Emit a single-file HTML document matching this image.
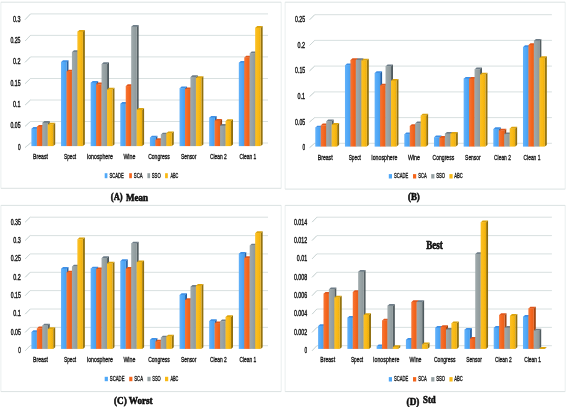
<!DOCTYPE html>
<html><head><meta charset="utf-8"><title>Figure</title>
<style>
html,body{margin:0;padding:0;background:#fff;}
body{width:566px;height:407px;overflow:hidden;}
svg{display:block;}
.t{font-family:"Liberation Sans",sans-serif;font-size:8px;fill:#151515;stroke:#151515;stroke-width:0.35px;}
.y{font-family:"Liberation Sans",sans-serif;font-size:8.6px;fill:#151515;stroke:#151515;stroke-width:0.42px;}
.l{font-family:"Liberation Sans",sans-serif;font-size:7.6px;fill:#151515;stroke:#151515;stroke-width:0.35px;}
.c{font-family:"Liberation Serif",serif;font-weight:bold;font-size:10.4px;fill:#0a0a0a;stroke:#0a0a0a;stroke-width:0.55px;}
</style></head><body>
<svg width="566" height="407" viewBox="0 0 566 407">
<defs>
<linearGradient id="g0" x1="0" x2="1" y1="0" y2="0"><stop offset="0" stop-color="#62b1f9"/><stop offset="0.55" stop-color="#50a8f8"/><stop offset="1" stop-color="#4b9ee9"/></linearGradient>
<linearGradient id="s0" x1="0" x2="1" y1="0" y2="0"><stop offset="0" stop-color="#2c6fba"/><stop offset="1" stop-color="#245b99"/></linearGradient>
<linearGradient id="g1" x1="0" x2="1" y1="0" y2="0"><stop offset="0" stop-color="#f67535"/><stop offset="0.55" stop-color="#f5661f"/><stop offset="1" stop-color="#e6601d"/></linearGradient>
<linearGradient id="s1" x1="0" x2="1" y1="0" y2="0"><stop offset="0" stop-color="#b54a12"/><stop offset="1" stop-color="#943d0f"/></linearGradient>
<linearGradient id="g2" x1="0" x2="1" y1="0" y2="0"><stop offset="0" stop-color="#a0aaac"/><stop offset="0.55" stop-color="#96a1a3"/><stop offset="1" stop-color="#8d9799"/></linearGradient>
<linearGradient id="s2" x1="0" x2="1" y1="0" y2="0"><stop offset="0" stop-color="#5c686c"/><stop offset="1" stop-color="#4b5559"/></linearGradient>
<linearGradient id="g3" x1="0" x2="1" y1="0" y2="0"><stop offset="0" stop-color="#fac02a"/><stop offset="0.55" stop-color="#f9b912"/><stop offset="1" stop-color="#eaae11"/></linearGradient>
<linearGradient id="s3" x1="0" x2="1" y1="0" y2="0"><stop offset="0" stop-color="#a37c08"/><stop offset="1" stop-color="#866607"/></linearGradient>
<filter id="soft" filterUnits="userSpaceOnUse" x="0" y="0" width="566" height="407"><feGaussianBlur stdDeviation="0.35"/></filter>
</defs>
<rect width="566" height="407" fill="#fff"/>
<g filter="url(#soft)">
<g class="panelA">
<path d="M0.9,2.2V188.3M281.2,2.2V188.3" fill="none" stroke="#eaefef" stroke-width="1"/>
<path d="M0.9,2.2H281.2M0.9,188.3H281.2" fill="none" stroke="#dbe2e2" stroke-width="1"/>
<polyline points="25.1,19.7 30.5,13.9 268,13.9" fill="none" stroke="#d4dddd" stroke-width="0.9"/>
<line x1="25.1" y1="19.7" x2="30.5" y2="13.9" stroke="#c9d3d3" stroke-width="0.8"/>
<text x="20.5" y="21.7" text-anchor="end" class="y" textLength="7.5" lengthAdjust="spacingAndGlyphs">0.3</text>
<polyline points="25.1,41.0 30.5,35.4 268,35.4" fill="none" stroke="#d4dddd" stroke-width="0.9"/>
<line x1="25.1" y1="41.0" x2="30.5" y2="35.4" stroke="#c9d3d3" stroke-width="0.8"/>
<text x="20.5" y="43.0" text-anchor="end" class="y" textLength="10.1" lengthAdjust="spacingAndGlyphs">0.25</text>
<polyline points="25.1,62.3 30.5,56.9 268,56.9" fill="none" stroke="#d4dddd" stroke-width="0.9"/>
<line x1="25.1" y1="62.3" x2="30.5" y2="56.9" stroke="#c9d3d3" stroke-width="0.8"/>
<text x="20.5" y="64.4" text-anchor="end" class="y" textLength="7.5" lengthAdjust="spacingAndGlyphs">0.2</text>
<polyline points="25.1,83.7 30.5,78.5 268,78.5" fill="none" stroke="#d4dddd" stroke-width="0.9"/>
<line x1="25.1" y1="83.7" x2="30.5" y2="78.5" stroke="#c9d3d3" stroke-width="0.8"/>
<text x="20.5" y="85.7" text-anchor="end" class="y" textLength="10.0" lengthAdjust="spacingAndGlyphs">0.15</text>
<polyline points="25.1,105.0 30.5,100.0 268,100.0" fill="none" stroke="#d4dddd" stroke-width="0.9"/>
<line x1="25.1" y1="105.0" x2="30.5" y2="100.0" stroke="#c9d3d3" stroke-width="0.8"/>
<text x="20.5" y="107.0" text-anchor="end" class="y" textLength="7.5" lengthAdjust="spacingAndGlyphs">0.1</text>
<polyline points="25.1,126.3 30.5,121.5 268,121.5" fill="none" stroke="#d4dddd" stroke-width="0.9"/>
<line x1="25.1" y1="126.3" x2="30.5" y2="121.5" stroke="#c9d3d3" stroke-width="0.8"/>
<text x="20.5" y="128.3" text-anchor="end" class="y" textLength="10.0" lengthAdjust="spacingAndGlyphs">0.05</text>
<polyline points="25.1,147.6 30.5,143.0 268,143.0" fill="none" stroke="#d4dddd" stroke-width="0.9"/>
<line x1="25.1" y1="147.6" x2="30.5" y2="143.0" stroke="#c9d3d3" stroke-width="0.8"/>
<text x="20.5" y="149.7" text-anchor="end" class="y" textLength="2.6" lengthAdjust="spacingAndGlyphs">0</text>
<polygon points="36.85,128.82 38.85,127.12 38.85,144.40 36.85,146.10" fill="url(#s0)"/>
<polygon points="31.40,129.12 36.85,129.12 38.85,127.12 33.40,127.12" fill="#3d8fe6"/>
<rect x="31.40" y="128.82" width="5.50" height="17.28" fill="url(#g0)"/>
<polygon points="42.30,126.66 44.30,124.96 44.30,144.40 42.30,146.10" fill="url(#s1)"/>
<polygon points="36.85,126.96 42.30,126.96 44.30,124.96 38.85,124.96" fill="#e0571a"/>
<rect x="36.85" y="126.66" width="5.50" height="19.44" fill="url(#g1)"/>
<polygon points="47.75,122.77 49.75,121.07 49.75,144.40 47.75,146.10" fill="url(#s2)"/>
<polygon points="42.30,123.07 47.75,123.07 49.75,121.07 44.30,121.07" fill="#6e7d88"/>
<rect x="42.30" y="122.77" width="5.50" height="23.33" fill="url(#g2)"/>
<polygon points="53.20,124.50 55.20,122.80 55.20,144.40 53.20,146.10" fill="url(#s3)"/>
<polygon points="47.75,124.80 53.20,124.80 55.20,122.80 49.75,122.80" fill="#dba30c"/>
<rect x="47.75" y="124.50" width="5.50" height="21.60" fill="url(#g3)"/>
<text x="40.5" y="159.3" text-anchor="middle" class="t" textLength="14.8" lengthAdjust="spacingAndGlyphs">Breast</text>
<polygon points="66.48,61.86 68.48,60.16 68.48,144.40 66.48,146.10" fill="url(#s0)"/>
<polygon points="61.03,62.16 66.48,62.16 68.48,60.16 63.03,60.16" fill="#3d8fe6"/>
<rect x="61.03" y="61.86" width="5.50" height="84.24" fill="url(#g0)"/>
<polygon points="71.93,71.36 73.93,69.66 73.93,144.40 71.93,146.10" fill="url(#s1)"/>
<polygon points="66.48,71.66 71.93,71.66 73.93,69.66 68.48,69.66" fill="#e0571a"/>
<rect x="66.48" y="71.36" width="5.50" height="74.74" fill="url(#g1)"/>
<polygon points="77.38,51.92 79.38,50.22 79.38,144.40 77.38,146.10" fill="url(#s2)"/>
<polygon points="71.93,52.22 77.38,52.22 79.38,50.22 73.93,50.22" fill="#6e7d88"/>
<rect x="71.93" y="51.92" width="5.50" height="94.18" fill="url(#g2)"/>
<polygon points="82.83,31.62 84.83,29.92 84.83,144.40 82.83,146.10" fill="url(#s3)"/>
<polygon points="77.38,31.92 82.83,31.92 84.83,29.92 79.38,29.92" fill="#dba30c"/>
<rect x="77.38" y="31.62" width="5.50" height="114.48" fill="url(#g3)"/>
<text x="70.1" y="159.3" text-anchor="middle" class="t" textLength="12.2" lengthAdjust="spacingAndGlyphs">Spect</text>
<polygon points="96.11,82.60 98.11,80.90 98.11,144.40 96.11,146.10" fill="url(#s0)"/>
<polygon points="90.66,82.90 96.11,82.90 98.11,80.90 92.66,80.90" fill="#3d8fe6"/>
<rect x="90.66" y="82.60" width="5.50" height="63.50" fill="url(#g0)"/>
<polygon points="101.56,84.32 103.56,82.62 103.56,144.40 101.56,146.10" fill="url(#s1)"/>
<polygon points="96.11,84.62 101.56,84.62 103.56,82.62 98.11,82.62" fill="#e0571a"/>
<rect x="96.11" y="84.32" width="5.50" height="61.78" fill="url(#g1)"/>
<polygon points="107.01,64.02 109.01,62.32 109.01,144.40 107.01,146.10" fill="url(#s2)"/>
<polygon points="101.56,64.32 107.01,64.32 109.01,62.32 103.56,62.32" fill="#6e7d88"/>
<rect x="101.56" y="64.02" width="5.50" height="82.08" fill="url(#g2)"/>
<polygon points="112.46,89.51 114.46,87.81 114.46,144.40 112.46,146.10" fill="url(#s3)"/>
<polygon points="107.01,89.81 112.46,89.81 114.46,87.81 109.01,87.81" fill="#dba30c"/>
<rect x="107.01" y="89.51" width="5.50" height="56.59" fill="url(#g3)"/>
<text x="99.8" y="159.3" text-anchor="middle" class="t" textLength="26.2" lengthAdjust="spacingAndGlyphs">Ionosphere</text>
<polygon points="125.74,103.76 127.74,102.06 127.74,144.40 125.74,146.10" fill="url(#s0)"/>
<polygon points="120.29,104.06 125.74,104.06 127.74,102.06 122.29,102.06" fill="#3d8fe6"/>
<rect x="120.29" y="103.76" width="5.50" height="42.34" fill="url(#g0)"/>
<polygon points="131.19,86.05 133.19,84.35 133.19,144.40 131.19,146.10" fill="url(#s1)"/>
<polygon points="125.74,86.35 131.19,86.35 133.19,84.35 127.74,84.35" fill="#e0571a"/>
<rect x="125.74" y="86.05" width="5.50" height="60.05" fill="url(#g1)"/>
<polygon points="136.64,26.65 138.64,24.95 138.64,144.40 136.64,146.10" fill="url(#s2)"/>
<polygon points="131.19,26.95 136.64,26.95 138.64,24.95 133.19,24.95" fill="#6e7d88"/>
<rect x="131.19" y="26.65" width="5.50" height="119.45" fill="url(#g2)"/>
<polygon points="142.09,109.81 144.09,108.11 144.09,144.40 142.09,146.10" fill="url(#s3)"/>
<polygon points="136.64,110.11 142.09,110.11 144.09,108.11 138.64,108.11" fill="#dba30c"/>
<rect x="136.64" y="109.81" width="5.50" height="36.29" fill="url(#g3)"/>
<text x="129.4" y="159.3" text-anchor="middle" class="t" textLength="12.0" lengthAdjust="spacingAndGlyphs">Wine</text>
<polygon points="155.37,137.46 157.37,135.76 157.37,144.40 155.37,146.10" fill="url(#s0)"/>
<polygon points="149.92,137.76 155.37,137.76 157.37,135.76 151.92,135.76" fill="#3d8fe6"/>
<rect x="149.92" y="137.46" width="5.50" height="8.64" fill="url(#g0)"/>
<polygon points="160.82,140.05 162.82,138.35 162.82,144.40 160.82,146.10" fill="url(#s1)"/>
<polygon points="155.37,140.35 160.82,140.35 162.82,138.35 157.37,138.35" fill="#e0571a"/>
<rect x="155.37" y="140.05" width="5.50" height="6.05" fill="url(#g1)"/>
<polygon points="166.27,134.44 168.27,132.74 168.27,144.40 166.27,146.10" fill="url(#s2)"/>
<polygon points="160.82,134.74 166.27,134.74 168.27,132.74 162.82,132.74" fill="#6e7d88"/>
<rect x="160.82" y="134.44" width="5.50" height="11.66" fill="url(#g2)"/>
<polygon points="171.72,133.14 173.72,131.44 173.72,144.40 171.72,146.10" fill="url(#s3)"/>
<polygon points="166.27,133.44 171.72,133.44 173.72,131.44 168.27,131.44" fill="#dba30c"/>
<rect x="166.27" y="133.14" width="5.50" height="12.96" fill="url(#g3)"/>
<text x="159.0" y="159.3" text-anchor="middle" class="t" textLength="21.7" lengthAdjust="spacingAndGlyphs">Congress</text>
<polygon points="185.00,88.21 187.00,86.51 187.00,144.40 185.00,146.10" fill="url(#s0)"/>
<polygon points="179.55,88.51 185.00,88.51 187.00,86.51 181.55,86.51" fill="#3d8fe6"/>
<rect x="179.55" y="88.21" width="5.50" height="57.89" fill="url(#g0)"/>
<polygon points="190.45,89.08 192.45,87.38 192.45,144.40 190.45,146.10" fill="url(#s1)"/>
<polygon points="185.00,89.38 190.45,89.38 192.45,87.38 187.00,87.38" fill="#e0571a"/>
<rect x="185.00" y="89.08" width="5.50" height="57.02" fill="url(#g1)"/>
<polygon points="195.90,76.98 197.90,75.28 197.90,144.40 195.90,146.10" fill="url(#s2)"/>
<polygon points="190.45,77.28 195.90,77.28 197.90,75.28 192.45,75.28" fill="#6e7d88"/>
<rect x="190.45" y="76.98" width="5.50" height="69.12" fill="url(#g2)"/>
<polygon points="201.35,77.84 203.35,76.14 203.35,144.40 201.35,146.10" fill="url(#s3)"/>
<polygon points="195.90,78.14 201.35,78.14 203.35,76.14 197.90,76.14" fill="#dba30c"/>
<rect x="195.90" y="77.84" width="5.50" height="68.26" fill="url(#g3)"/>
<text x="188.7" y="159.3" text-anchor="middle" class="t" textLength="15.6" lengthAdjust="spacingAndGlyphs">Sensor</text>
<polygon points="214.63,117.59 216.63,115.89 216.63,144.40 214.63,146.10" fill="url(#s0)"/>
<polygon points="209.18,117.89 214.63,117.89 216.63,115.89 211.18,115.89" fill="#3d8fe6"/>
<rect x="209.18" y="117.59" width="5.50" height="28.51" fill="url(#g0)"/>
<polygon points="220.08,120.61 222.08,118.91 222.08,144.40 220.08,146.10" fill="url(#s1)"/>
<polygon points="214.63,120.91 220.08,120.91 222.08,118.91 216.63,118.91" fill="#e0571a"/>
<rect x="214.63" y="120.61" width="5.50" height="25.49" fill="url(#g1)"/>
<polygon points="225.53,125.80 227.53,124.10 227.53,144.40 225.53,146.10" fill="url(#s2)"/>
<polygon points="220.08,126.10 225.53,126.10 227.53,124.10 222.08,124.10" fill="#6e7d88"/>
<rect x="220.08" y="125.80" width="5.50" height="20.30" fill="url(#g2)"/>
<polygon points="230.98,121.04 232.98,119.34 232.98,144.40 230.98,146.10" fill="url(#s3)"/>
<polygon points="225.53,121.34 230.98,121.34 232.98,119.34 227.53,119.34" fill="#dba30c"/>
<rect x="225.53" y="121.04" width="5.50" height="25.06" fill="url(#g3)"/>
<text x="218.3" y="159.3" text-anchor="middle" class="t" textLength="16.8" lengthAdjust="spacingAndGlyphs">Clean 2</text>
<polygon points="244.26,62.72 246.26,61.02 246.26,144.40 244.26,146.10" fill="url(#s0)"/>
<polygon points="238.81,63.02 244.26,63.02 246.26,61.02 240.81,61.02" fill="#3d8fe6"/>
<rect x="238.81" y="62.72" width="5.50" height="83.38" fill="url(#g0)"/>
<polygon points="249.71,57.54 251.71,55.84 251.71,144.40 249.71,146.10" fill="url(#s1)"/>
<polygon points="244.26,57.84 249.71,57.84 251.71,55.84 246.26,55.84" fill="#e0571a"/>
<rect x="244.26" y="57.54" width="5.50" height="88.56" fill="url(#g1)"/>
<polygon points="255.16,53.22 257.16,51.52 257.16,144.40 255.16,146.10" fill="url(#s2)"/>
<polygon points="249.71,53.52 255.16,53.52 257.16,51.52 251.71,51.52" fill="#6e7d88"/>
<rect x="249.71" y="53.22" width="5.50" height="92.88" fill="url(#g2)"/>
<polygon points="260.61,27.73 262.61,26.03 262.61,144.40 260.61,146.10" fill="url(#s3)"/>
<polygon points="255.16,28.03 260.61,28.03 262.61,26.03 257.16,26.03" fill="#dba30c"/>
<rect x="255.16" y="27.73" width="5.50" height="118.37" fill="url(#g3)"/>
<text x="247.9" y="159.3" text-anchor="middle" class="t" textLength="16.8" lengthAdjust="spacingAndGlyphs">Clean 1</text>
<rect x="104.7" y="173.2" width="2.7" height="5.0" fill="#50a8f8"/>
<text x="109.4" y="178.0" class="l" textLength="14.5" lengthAdjust="spacingAndGlyphs">SCADE</text>
<rect x="129.2" y="173.2" width="2.7" height="5.0" fill="#f5661f"/>
<text x="133.8" y="178.0" class="l" textLength="8.9" lengthAdjust="spacingAndGlyphs">SCA</text>
<rect x="147.4" y="173.2" width="2.7" height="5.0" fill="#96a1a3"/>
<text x="151.8" y="178.0" class="l" textLength="8.9" lengthAdjust="spacingAndGlyphs">SSO</text>
<rect x="165.1" y="173.2" width="2.7" height="5.0" fill="#f9b912"/>
<text x="170.4" y="178.0" class="l" textLength="7.9" lengthAdjust="spacingAndGlyphs">ABC</text>
</g>
<g class="panelB">
<path d="M285.1,2.2V189.1M565.2,2.2V189.1" fill="none" stroke="#eaefef" stroke-width="1"/>
<path d="M285.1,2.2H565.2M285.1,189.1H565.2" fill="none" stroke="#dbe2e2" stroke-width="1"/>
<polyline points="309.6,19.8 314.7,14.7 551.9,14.7" fill="none" stroke="#d4dddd" stroke-width="0.9"/>
<line x1="309.6" y1="19.8" x2="314.7" y2="14.7" stroke="#c9d3d3" stroke-width="0.8"/>
<text x="305.1" y="22.1" text-anchor="end" class="y" textLength="10.1" lengthAdjust="spacingAndGlyphs">0.25</text>
<polyline points="309.6,45.4 314.7,40.4 551.9,40.4" fill="none" stroke="#d4dddd" stroke-width="0.9"/>
<line x1="309.6" y1="45.4" x2="314.7" y2="40.4" stroke="#c9d3d3" stroke-width="0.8"/>
<text x="305.1" y="47.7" text-anchor="end" class="y" textLength="7.5" lengthAdjust="spacingAndGlyphs">0.2</text>
<polyline points="309.6,70.9 314.7,66.1 551.9,66.1" fill="none" stroke="#d4dddd" stroke-width="0.9"/>
<line x1="309.6" y1="70.9" x2="314.7" y2="66.1" stroke="#c9d3d3" stroke-width="0.8"/>
<text x="305.1" y="73.3" text-anchor="end" class="y" textLength="10.0" lengthAdjust="spacingAndGlyphs">0.15</text>
<polyline points="309.6,96.5 314.7,91.9 551.9,91.9" fill="none" stroke="#d4dddd" stroke-width="0.9"/>
<line x1="309.6" y1="96.5" x2="314.7" y2="91.9" stroke="#c9d3d3" stroke-width="0.8"/>
<text x="305.1" y="98.9" text-anchor="end" class="y" textLength="7.5" lengthAdjust="spacingAndGlyphs">0.1</text>
<polyline points="309.6,122.0 314.7,117.6 551.9,117.6" fill="none" stroke="#d4dddd" stroke-width="0.9"/>
<line x1="309.6" y1="122.0" x2="314.7" y2="117.6" stroke="#c9d3d3" stroke-width="0.8"/>
<text x="305.1" y="124.5" text-anchor="end" class="y" textLength="10.0" lengthAdjust="spacingAndGlyphs">0.05</text>
<polyline points="309.6,147.6 314.7,143.3 551.9,143.3" fill="none" stroke="#d4dddd" stroke-width="0.9"/>
<line x1="309.6" y1="147.6" x2="314.7" y2="143.3" stroke="#c9d3d3" stroke-width="0.8"/>
<text x="305.1" y="150.1" text-anchor="end" class="y" textLength="2.6" lengthAdjust="spacingAndGlyphs">0</text>
<polygon points="320.75,127.40 322.75,125.70 322.75,144.90 320.75,146.60" fill="url(#s0)"/>
<polygon points="315.30,127.70 320.75,127.70 322.75,125.70 317.30,125.70" fill="#3d8fe6"/>
<rect x="315.30" y="127.40" width="5.50" height="19.20" fill="url(#g0)"/>
<polygon points="326.20,125.32 328.20,123.62 328.20,144.90 326.20,146.60" fill="url(#s1)"/>
<polygon points="320.75,125.62 326.20,125.62 328.20,123.62 322.75,123.62" fill="#e0571a"/>
<rect x="320.75" y="125.32" width="5.50" height="21.28" fill="url(#g1)"/>
<polygon points="331.65,121.17 333.65,119.47 333.65,144.90 331.65,146.60" fill="url(#s2)"/>
<polygon points="326.20,121.47 331.65,121.47 333.65,119.47 328.20,119.47" fill="#6e7d88"/>
<rect x="326.20" y="121.17" width="5.50" height="25.43" fill="url(#g2)"/>
<polygon points="337.10,124.80 339.10,123.10 339.10,144.90 337.10,146.60" fill="url(#s3)"/>
<polygon points="331.65,125.10 337.10,125.10 339.10,123.10 333.65,123.10" fill="#dba30c"/>
<rect x="331.65" y="124.80" width="5.50" height="21.80" fill="url(#g3)"/>
<text x="325.2" y="160.0" text-anchor="middle" class="t" textLength="14.8" lengthAdjust="spacingAndGlyphs">Breast</text>
<polygon points="350.42,65.12 352.42,63.42 352.42,144.90 350.42,146.60" fill="url(#s0)"/>
<polygon points="344.97,65.42 350.42,65.42 352.42,63.42 346.97,63.42" fill="#3d8fe6"/>
<rect x="344.97" y="65.12" width="5.50" height="81.48" fill="url(#g0)"/>
<polygon points="355.87,59.93 357.87,58.23 357.87,144.90 355.87,146.60" fill="url(#s1)"/>
<polygon points="350.42,60.23 355.87,60.23 357.87,58.23 352.42,58.23" fill="#e0571a"/>
<rect x="350.42" y="59.93" width="5.50" height="86.67" fill="url(#g1)"/>
<polygon points="361.32,59.93 363.32,58.23 363.32,144.90 361.32,146.60" fill="url(#s2)"/>
<polygon points="355.87,60.23 361.32,60.23 363.32,58.23 357.87,58.23" fill="#6e7d88"/>
<rect x="355.87" y="59.93" width="5.50" height="86.67" fill="url(#g2)"/>
<polygon points="366.77,60.45 368.77,58.75 368.77,144.90 366.77,146.60" fill="url(#s3)"/>
<polygon points="361.32,60.75 366.77,60.75 368.77,58.75 363.32,58.75" fill="#dba30c"/>
<rect x="361.32" y="60.45" width="5.50" height="86.15" fill="url(#g3)"/>
<text x="354.8" y="160.0" text-anchor="middle" class="t" textLength="12.2" lengthAdjust="spacingAndGlyphs">Spect</text>
<polygon points="380.09,72.90 382.09,71.20 382.09,144.90 380.09,146.60" fill="url(#s0)"/>
<polygon points="374.64,73.20 380.09,73.20 382.09,71.20 376.64,71.20" fill="#3d8fe6"/>
<rect x="374.64" y="72.90" width="5.50" height="73.70" fill="url(#g0)"/>
<polygon points="385.54,85.36 387.54,83.66 387.54,144.90 385.54,146.60" fill="url(#s1)"/>
<polygon points="380.09,85.66 385.54,85.66 387.54,83.66 382.09,83.66" fill="#e0571a"/>
<rect x="380.09" y="85.36" width="5.50" height="61.24" fill="url(#g1)"/>
<polygon points="390.99,66.16 392.99,64.45 392.99,144.90 390.99,146.60" fill="url(#s2)"/>
<polygon points="385.54,66.45 390.99,66.45 392.99,64.45 387.54,64.45" fill="#6e7d88"/>
<rect x="385.54" y="66.16" width="5.50" height="80.44" fill="url(#g2)"/>
<polygon points="396.44,80.69 398.44,78.99 398.44,144.90 396.44,146.60" fill="url(#s3)"/>
<polygon points="390.99,80.99 396.44,80.99 398.44,78.99 392.99,78.99" fill="#dba30c"/>
<rect x="390.99" y="80.69" width="5.50" height="65.91" fill="url(#g3)"/>
<text x="384.3" y="160.0" text-anchor="middle" class="t" textLength="26.2" lengthAdjust="spacingAndGlyphs">Ionosphere</text>
<polygon points="409.76,134.14 411.76,132.44 411.76,144.90 409.76,146.60" fill="url(#s0)"/>
<polygon points="404.31,134.44 409.76,134.44 411.76,132.44 406.31,132.44" fill="#3d8fe6"/>
<rect x="404.31" y="134.14" width="5.50" height="12.46" fill="url(#g0)"/>
<polygon points="415.21,125.84 417.21,124.14 417.21,144.90 415.21,146.60" fill="url(#s1)"/>
<polygon points="409.76,126.14 415.21,126.14 417.21,124.14 411.76,124.14" fill="#e0571a"/>
<rect x="409.76" y="125.84" width="5.50" height="20.76" fill="url(#g1)"/>
<polygon points="420.66,123.24 422.66,121.54 422.66,144.90 420.66,146.60" fill="url(#s2)"/>
<polygon points="415.21,123.54 420.66,123.54 422.66,121.54 417.21,121.54" fill="#6e7d88"/>
<rect x="415.21" y="123.24" width="5.50" height="23.36" fill="url(#g2)"/>
<polygon points="426.11,115.46 428.11,113.76 428.11,144.90 426.11,146.60" fill="url(#s3)"/>
<polygon points="420.66,115.76 426.11,115.76 428.11,113.76 422.66,113.76" fill="#dba30c"/>
<rect x="420.66" y="115.46" width="5.50" height="31.14" fill="url(#g3)"/>
<text x="413.9" y="160.0" text-anchor="middle" class="t" textLength="12.0" lengthAdjust="spacingAndGlyphs">Wine</text>
<polygon points="439.43,137.26 441.43,135.56 441.43,144.90 439.43,146.60" fill="url(#s0)"/>
<polygon points="433.98,137.56 439.43,137.56 441.43,135.56 435.98,135.56" fill="#3d8fe6"/>
<rect x="433.98" y="137.26" width="5.50" height="9.34" fill="url(#g0)"/>
<polygon points="444.88,137.78 446.88,136.08 446.88,144.90 444.88,146.60" fill="url(#s1)"/>
<polygon points="439.43,138.08 444.88,138.08 446.88,136.08 441.43,136.08" fill="#e0571a"/>
<rect x="439.43" y="137.78" width="5.50" height="8.82" fill="url(#g1)"/>
<polygon points="450.33,133.62 452.33,131.93 452.33,144.90 450.33,146.60" fill="url(#s2)"/>
<polygon points="444.88,133.93 450.33,133.93 452.33,131.93 446.88,131.93" fill="#6e7d88"/>
<rect x="444.88" y="133.62" width="5.50" height="12.97" fill="url(#g2)"/>
<polygon points="455.78,133.62 457.78,131.93 457.78,144.90 455.78,146.60" fill="url(#s3)"/>
<polygon points="450.33,133.93 455.78,133.93 457.78,131.93 452.33,131.93" fill="#dba30c"/>
<rect x="450.33" y="133.62" width="5.50" height="12.97" fill="url(#g3)"/>
<text x="443.4" y="160.0" text-anchor="middle" class="t" textLength="21.7" lengthAdjust="spacingAndGlyphs">Congress</text>
<polygon points="469.10,78.61 471.10,76.91 471.10,144.90 469.10,146.60" fill="url(#s0)"/>
<polygon points="463.65,78.91 469.10,78.91 471.10,76.91 465.65,76.91" fill="#3d8fe6"/>
<rect x="463.65" y="78.61" width="5.50" height="67.99" fill="url(#g0)"/>
<polygon points="474.55,78.61 476.55,76.91 476.55,144.90 474.55,146.60" fill="url(#s1)"/>
<polygon points="469.10,78.91 474.55,78.91 476.55,76.91 471.10,76.91" fill="#e0571a"/>
<rect x="469.10" y="78.61" width="5.50" height="67.99" fill="url(#g1)"/>
<polygon points="480.00,69.27 482.00,67.57 482.00,144.90 480.00,146.60" fill="url(#s2)"/>
<polygon points="474.55,69.57 480.00,69.57 482.00,67.57 476.55,67.57" fill="#6e7d88"/>
<rect x="474.55" y="69.27" width="5.50" height="77.33" fill="url(#g2)"/>
<polygon points="485.45,74.46 487.45,72.76 487.45,144.90 485.45,146.60" fill="url(#s3)"/>
<polygon points="480.00,74.76 485.45,74.76 487.45,72.76 482.00,72.76" fill="#dba30c"/>
<rect x="480.00" y="74.46" width="5.50" height="72.14" fill="url(#g3)"/>
<text x="472.9" y="160.0" text-anchor="middle" class="t" textLength="15.6" lengthAdjust="spacingAndGlyphs">Sensor</text>
<polygon points="498.77,128.95 500.77,127.25 500.77,144.90 498.77,146.60" fill="url(#s0)"/>
<polygon points="493.32,129.25 498.77,129.25 500.77,127.25 495.32,127.25" fill="#3d8fe6"/>
<rect x="493.32" y="128.95" width="5.50" height="17.65" fill="url(#g0)"/>
<polygon points="504.22,130.51 506.22,128.81 506.22,144.90 504.22,146.60" fill="url(#s1)"/>
<polygon points="498.77,130.81 504.22,130.81 506.22,128.81 500.77,128.81" fill="#e0571a"/>
<rect x="498.77" y="130.51" width="5.50" height="16.09" fill="url(#g1)"/>
<polygon points="509.67,134.14 511.67,132.44 511.67,144.90 509.67,146.60" fill="url(#s2)"/>
<polygon points="504.22,134.44 509.67,134.44 511.67,132.44 506.22,132.44" fill="#6e7d88"/>
<rect x="504.22" y="134.14" width="5.50" height="12.46" fill="url(#g2)"/>
<polygon points="515.12,128.44 517.12,126.73 517.12,144.90 515.12,146.60" fill="url(#s3)"/>
<polygon points="509.67,128.74 515.12,128.74 517.12,126.73 511.67,126.73" fill="#dba30c"/>
<rect x="509.67" y="128.44" width="5.50" height="18.16" fill="url(#g3)"/>
<text x="502.5" y="160.0" text-anchor="middle" class="t" textLength="16.8" lengthAdjust="spacingAndGlyphs">Clean 2</text>
<polygon points="528.44,46.95 530.44,45.25 530.44,144.90 528.44,146.60" fill="url(#s0)"/>
<polygon points="522.99,47.25 528.44,47.25 530.44,45.25 524.99,45.25" fill="#3d8fe6"/>
<rect x="522.99" y="46.95" width="5.50" height="99.65" fill="url(#g0)"/>
<polygon points="533.89,44.88 535.89,43.18 535.89,144.90 533.89,146.60" fill="url(#s1)"/>
<polygon points="528.44,45.18 533.89,45.18 535.89,43.18 530.44,43.18" fill="#e0571a"/>
<rect x="528.44" y="44.88" width="5.50" height="101.72" fill="url(#g1)"/>
<polygon points="539.34,40.72 541.34,39.02 541.34,144.90 539.34,146.60" fill="url(#s2)"/>
<polygon points="533.89,41.02 539.34,41.02 541.34,39.02 535.89,39.02" fill="#6e7d88"/>
<rect x="533.89" y="40.72" width="5.50" height="105.88" fill="url(#g2)"/>
<polygon points="544.79,57.85 546.79,56.15 546.79,144.90 544.79,146.60" fill="url(#s3)"/>
<polygon points="539.34,58.15 544.79,58.15 546.79,56.15 541.34,56.15" fill="#dba30c"/>
<rect x="539.34" y="57.85" width="5.50" height="88.75" fill="url(#g3)"/>
<text x="532.0" y="160.0" text-anchor="middle" class="t" textLength="16.8" lengthAdjust="spacingAndGlyphs">Clean 1</text>
<rect x="388.8" y="174.1" width="3.2" height="4.4" fill="#50a8f8"/>
<text x="394.1" y="178.3" class="l" textLength="14.2" lengthAdjust="spacingAndGlyphs">SCADE</text>
<rect x="413.0" y="174.1" width="3.2" height="4.4" fill="#f5661f"/>
<text x="418.3" y="178.3" class="l" textLength="8.5" lengthAdjust="spacingAndGlyphs">SCA</text>
<rect x="431.2" y="174.1" width="3.2" height="4.4" fill="#96a1a3"/>
<text x="436.2" y="178.3" class="l" textLength="8.8" lengthAdjust="spacingAndGlyphs">SSO</text>
<rect x="449.4" y="174.1" width="3.2" height="4.4" fill="#f9b912"/>
<text x="454.2" y="178.3" class="l" textLength="8.5" lengthAdjust="spacingAndGlyphs">ABC</text>
</g>
<g class="panelC">
<path d="M0.9,205.4V391.6M281.2,205.4V391.6" fill="none" stroke="#eaefef" stroke-width="1"/>
<path d="M0.9,205.4H281.2M0.9,391.6H281.2" fill="none" stroke="#dbe2e2" stroke-width="1"/>
<polyline points="25.2,222.1 30.2,217.2 268,217.2" fill="none" stroke="#d4dddd" stroke-width="0.9"/>
<line x1="25.2" y1="222.1" x2="30.2" y2="217.2" stroke="#c9d3d3" stroke-width="0.8"/>
<text x="20.8" y="224.5" text-anchor="end" class="y" textLength="10.1" lengthAdjust="spacingAndGlyphs">0.35</text>
<polyline points="25.2,240.5 30.2,235.6 268,235.6" fill="none" stroke="#d4dddd" stroke-width="0.9"/>
<line x1="25.2" y1="240.5" x2="30.2" y2="235.6" stroke="#c9d3d3" stroke-width="0.8"/>
<text x="20.8" y="242.8" text-anchor="end" class="y" textLength="7.5" lengthAdjust="spacingAndGlyphs">0.3</text>
<polyline points="25.2,258.9 30.2,253.9 268,253.9" fill="none" stroke="#d4dddd" stroke-width="0.9"/>
<line x1="25.2" y1="258.9" x2="30.2" y2="253.9" stroke="#c9d3d3" stroke-width="0.8"/>
<text x="20.8" y="261.2" text-anchor="end" class="y" textLength="10.1" lengthAdjust="spacingAndGlyphs">0.25</text>
<polyline points="25.2,277.3 30.2,272.3 268,272.3" fill="none" stroke="#d4dddd" stroke-width="0.9"/>
<line x1="25.2" y1="277.3" x2="30.2" y2="272.3" stroke="#c9d3d3" stroke-width="0.8"/>
<text x="20.8" y="279.5" text-anchor="end" class="y" textLength="7.5" lengthAdjust="spacingAndGlyphs">0.2</text>
<polyline points="25.2,295.7 30.2,290.6 268,290.6" fill="none" stroke="#d4dddd" stroke-width="0.9"/>
<line x1="25.2" y1="295.7" x2="30.2" y2="290.6" stroke="#c9d3d3" stroke-width="0.8"/>
<text x="20.8" y="297.8" text-anchor="end" class="y" textLength="10.0" lengthAdjust="spacingAndGlyphs">0.15</text>
<polyline points="25.2,314.1 30.2,309.0 268,309.0" fill="none" stroke="#d4dddd" stroke-width="0.9"/>
<line x1="25.2" y1="314.1" x2="30.2" y2="309.0" stroke="#c9d3d3" stroke-width="0.8"/>
<text x="20.8" y="316.1" text-anchor="end" class="y" textLength="7.5" lengthAdjust="spacingAndGlyphs">0.1</text>
<polyline points="25.2,332.4 30.2,327.4 268,327.4" fill="none" stroke="#d4dddd" stroke-width="0.9"/>
<line x1="25.2" y1="332.4" x2="30.2" y2="327.4" stroke="#c9d3d3" stroke-width="0.8"/>
<text x="20.8" y="334.5" text-anchor="end" class="y" textLength="10.0" lengthAdjust="spacingAndGlyphs">0.05</text>
<polyline points="25.2,350.8 30.2,345.7 268,345.7" fill="none" stroke="#d4dddd" stroke-width="0.9"/>
<line x1="25.2" y1="350.8" x2="30.2" y2="345.7" stroke="#c9d3d3" stroke-width="0.8"/>
<text x="20.8" y="352.8" text-anchor="end" class="y" textLength="2.6" lengthAdjust="spacingAndGlyphs">0</text>
<polygon points="36.85,331.98 38.85,330.28 38.85,347.20 36.85,348.90" fill="url(#s0)"/>
<polygon points="31.40,332.28 36.85,332.28 38.85,330.28 33.40,330.28" fill="#3d8fe6"/>
<rect x="31.40" y="331.98" width="5.50" height="16.92" fill="url(#g0)"/>
<polygon points="42.30,328.30 44.30,326.60 44.30,347.20 42.30,348.90" fill="url(#s1)"/>
<polygon points="36.85,328.60 42.30,328.60 44.30,326.60 38.85,326.60" fill="#e0571a"/>
<rect x="36.85" y="328.30" width="5.50" height="20.60" fill="url(#g1)"/>
<polygon points="47.75,325.36 49.75,323.66 49.75,347.20 47.75,348.90" fill="url(#s2)"/>
<polygon points="42.30,325.66 47.75,325.66 49.75,323.66 44.30,323.66" fill="#6e7d88"/>
<rect x="42.30" y="325.36" width="5.50" height="23.54" fill="url(#g2)"/>
<polygon points="53.20,329.04 55.20,327.34 55.20,347.20 53.20,348.90" fill="url(#s3)"/>
<polygon points="47.75,329.34 53.20,329.34 55.20,327.34 49.75,327.34" fill="#dba30c"/>
<rect x="47.75" y="329.04" width="5.50" height="19.86" fill="url(#g3)"/>
<text x="40.5" y="362.3" text-anchor="middle" class="t" textLength="14.8" lengthAdjust="spacingAndGlyphs">Breast</text>
<polygon points="66.48,268.72 68.48,267.02 68.48,347.20 66.48,348.90" fill="url(#s0)"/>
<polygon points="61.03,269.02 66.48,269.02 68.48,267.02 63.03,267.02" fill="#3d8fe6"/>
<rect x="61.03" y="268.72" width="5.50" height="80.18" fill="url(#g0)"/>
<polygon points="71.93,272.40 73.93,270.70 73.93,347.20 71.93,348.90" fill="url(#s1)"/>
<polygon points="66.48,272.70 71.93,272.70 73.93,270.70 68.48,270.70" fill="#e0571a"/>
<rect x="66.48" y="272.40" width="5.50" height="76.50" fill="url(#g1)"/>
<polygon points="77.38,266.51 79.38,264.81 79.38,347.20 77.38,348.90" fill="url(#s2)"/>
<polygon points="71.93,266.81 77.38,266.81 79.38,264.81 73.93,264.81" fill="#6e7d88"/>
<rect x="71.93" y="266.51" width="5.50" height="82.39" fill="url(#g2)"/>
<polygon points="82.83,239.30 84.83,237.60 84.83,347.20 82.83,348.90" fill="url(#s3)"/>
<polygon points="77.38,239.60 82.83,239.60 84.83,237.60 79.38,237.60" fill="#dba30c"/>
<rect x="77.38" y="239.30" width="5.50" height="109.60" fill="url(#g3)"/>
<text x="70.1" y="362.3" text-anchor="middle" class="t" textLength="12.2" lengthAdjust="spacingAndGlyphs">Spect</text>
<polygon points="96.11,268.35 98.11,266.65 98.11,347.20 96.11,348.90" fill="url(#s0)"/>
<polygon points="90.66,268.65 96.11,268.65 98.11,266.65 92.66,266.65" fill="#3d8fe6"/>
<rect x="90.66" y="268.35" width="5.50" height="80.55" fill="url(#g0)"/>
<polygon points="101.56,269.09 103.56,267.39 103.56,347.20 101.56,348.90" fill="url(#s1)"/>
<polygon points="96.11,269.39 101.56,269.39 103.56,267.39 98.11,267.39" fill="#e0571a"/>
<rect x="96.11" y="269.09" width="5.50" height="79.81" fill="url(#g1)"/>
<polygon points="107.01,258.05 109.01,256.35 109.01,347.20 107.01,348.90" fill="url(#s2)"/>
<polygon points="101.56,258.35 107.01,258.35 109.01,256.35 103.56,256.35" fill="#6e7d88"/>
<rect x="101.56" y="258.05" width="5.50" height="90.85" fill="url(#g2)"/>
<polygon points="112.46,263.57 114.46,261.87 114.46,347.20 112.46,348.90" fill="url(#s3)"/>
<polygon points="107.01,263.87 112.46,263.87 114.46,261.87 109.01,261.87" fill="#dba30c"/>
<rect x="107.01" y="263.57" width="5.50" height="85.33" fill="url(#g3)"/>
<text x="99.8" y="362.3" text-anchor="middle" class="t" textLength="26.2" lengthAdjust="spacingAndGlyphs">Ionosphere</text>
<polygon points="125.74,261.00 127.74,259.30 127.74,347.20 125.74,348.90" fill="url(#s0)"/>
<polygon points="120.29,261.30 125.74,261.30 127.74,259.30 122.29,259.30" fill="#3d8fe6"/>
<rect x="120.29" y="261.00" width="5.50" height="87.90" fill="url(#g0)"/>
<polygon points="131.19,268.72 133.19,267.02 133.19,347.20 131.19,348.90" fill="url(#s1)"/>
<polygon points="125.74,269.02 131.19,269.02 133.19,267.02 127.74,267.02" fill="#e0571a"/>
<rect x="125.74" y="268.72" width="5.50" height="80.18" fill="url(#g1)"/>
<polygon points="136.64,243.34 138.64,241.64 138.64,347.20 136.64,348.90" fill="url(#s2)"/>
<polygon points="131.19,243.64 136.64,243.64 138.64,241.64 133.19,241.64" fill="#6e7d88"/>
<rect x="131.19" y="243.34" width="5.50" height="105.56" fill="url(#g2)"/>
<polygon points="142.09,262.10 144.09,260.40 144.09,347.20 142.09,348.90" fill="url(#s3)"/>
<polygon points="136.64,262.40 142.09,262.40 144.09,260.40 138.64,260.40" fill="#dba30c"/>
<rect x="136.64" y="262.10" width="5.50" height="86.80" fill="url(#g3)"/>
<text x="129.4" y="362.3" text-anchor="middle" class="t" textLength="12.0" lengthAdjust="spacingAndGlyphs">Wine</text>
<polygon points="155.37,339.70 157.37,338.00 157.37,347.20 155.37,348.90" fill="url(#s0)"/>
<polygon points="149.92,340.00 155.37,340.00 157.37,338.00 151.92,338.00" fill="#3d8fe6"/>
<rect x="149.92" y="339.70" width="5.50" height="9.19" fill="url(#g0)"/>
<polygon points="160.82,341.54 162.82,339.84 162.82,347.20 160.82,348.90" fill="url(#s1)"/>
<polygon points="155.37,341.84 160.82,341.84 162.82,339.84 157.37,339.84" fill="#e0571a"/>
<rect x="155.37" y="341.54" width="5.50" height="7.36" fill="url(#g1)"/>
<polygon points="166.27,337.50 168.27,335.80 168.27,347.20 166.27,348.90" fill="url(#s2)"/>
<polygon points="160.82,337.80 166.27,337.80 168.27,335.80 162.82,335.80" fill="#6e7d88"/>
<rect x="160.82" y="337.50" width="5.50" height="11.40" fill="url(#g2)"/>
<polygon points="171.72,336.39 173.72,334.69 173.72,347.20 171.72,348.90" fill="url(#s3)"/>
<polygon points="166.27,336.69 171.72,336.69 173.72,334.69 168.27,334.69" fill="#dba30c"/>
<rect x="166.27" y="336.39" width="5.50" height="12.51" fill="url(#g3)"/>
<text x="159.0" y="362.3" text-anchor="middle" class="t" textLength="21.7" lengthAdjust="spacingAndGlyphs">Congress</text>
<polygon points="185.00,294.83 187.00,293.13 187.00,347.20 185.00,348.90" fill="url(#s0)"/>
<polygon points="179.55,295.13 185.00,295.13 187.00,293.13 181.55,293.13" fill="#3d8fe6"/>
<rect x="179.55" y="294.83" width="5.50" height="54.07" fill="url(#g0)"/>
<polygon points="190.45,299.98 192.45,298.28 192.45,347.20 190.45,348.90" fill="url(#s1)"/>
<polygon points="185.00,300.28 190.45,300.28 192.45,298.28 187.00,298.28" fill="#e0571a"/>
<rect x="185.00" y="299.98" width="5.50" height="48.92" fill="url(#g1)"/>
<polygon points="195.90,286.74 197.90,285.04 197.90,347.20 195.90,348.90" fill="url(#s2)"/>
<polygon points="190.45,287.04 195.90,287.04 197.90,285.04 192.45,285.04" fill="#6e7d88"/>
<rect x="190.45" y="286.74" width="5.50" height="62.16" fill="url(#g2)"/>
<polygon points="201.35,285.64 203.35,283.94 203.35,347.20 201.35,348.90" fill="url(#s3)"/>
<polygon points="195.90,285.94 201.35,285.94 203.35,283.94 197.90,283.94" fill="#dba30c"/>
<rect x="195.90" y="285.64" width="5.50" height="63.26" fill="url(#g3)"/>
<text x="188.7" y="362.3" text-anchor="middle" class="t" textLength="15.6" lengthAdjust="spacingAndGlyphs">Sensor</text>
<polygon points="214.63,320.95 216.63,319.25 216.63,347.20 214.63,348.90" fill="url(#s0)"/>
<polygon points="209.18,321.25 214.63,321.25 216.63,319.25 211.18,319.25" fill="#3d8fe6"/>
<rect x="209.18" y="320.95" width="5.50" height="27.95" fill="url(#g0)"/>
<polygon points="220.08,323.15 222.08,321.45 222.08,347.20 220.08,348.90" fill="url(#s1)"/>
<polygon points="214.63,323.45 220.08,323.45 222.08,321.45 216.63,321.45" fill="#e0571a"/>
<rect x="214.63" y="323.15" width="5.50" height="25.75" fill="url(#g1)"/>
<polygon points="225.53,321.31 227.53,319.62 227.53,347.20 225.53,348.90" fill="url(#s2)"/>
<polygon points="220.08,321.62 225.53,321.62 227.53,319.62 222.08,319.62" fill="#6e7d88"/>
<rect x="220.08" y="321.31" width="5.50" height="27.58" fill="url(#g2)"/>
<polygon points="230.98,316.90 232.98,315.20 232.98,347.20 230.98,348.90" fill="url(#s3)"/>
<polygon points="225.53,317.20 230.98,317.20 232.98,315.20 227.53,315.20" fill="#dba30c"/>
<rect x="225.53" y="316.90" width="5.50" height="32.00" fill="url(#g3)"/>
<text x="218.3" y="362.3" text-anchor="middle" class="t" textLength="16.8" lengthAdjust="spacingAndGlyphs">Clean 2</text>
<polygon points="244.26,253.64 246.26,251.94 246.26,347.20 244.26,348.90" fill="url(#s0)"/>
<polygon points="238.81,253.94 244.26,253.94 246.26,251.94 240.81,251.94" fill="#3d8fe6"/>
<rect x="238.81" y="253.64" width="5.50" height="95.26" fill="url(#g0)"/>
<polygon points="249.71,258.05 251.71,256.35 251.71,347.20 249.71,348.90" fill="url(#s1)"/>
<polygon points="244.26,258.35 249.71,258.35 251.71,256.35 246.26,256.35" fill="#e0571a"/>
<rect x="244.26" y="258.05" width="5.50" height="90.85" fill="url(#g1)"/>
<polygon points="255.16,245.55 257.16,243.85 257.16,347.20 255.16,348.90" fill="url(#s2)"/>
<polygon points="249.71,245.85 255.16,245.85 257.16,243.85 251.71,243.85" fill="#6e7d88"/>
<rect x="249.71" y="245.55" width="5.50" height="103.35" fill="url(#g2)"/>
<polygon points="260.61,233.04 262.61,231.34 262.61,347.20 260.61,348.90" fill="url(#s3)"/>
<polygon points="255.16,233.34 260.61,233.34 262.61,231.34 257.16,231.34" fill="#dba30c"/>
<rect x="255.16" y="233.04" width="5.50" height="115.86" fill="url(#g3)"/>
<text x="247.9" y="362.3" text-anchor="middle" class="t" textLength="16.8" lengthAdjust="spacingAndGlyphs">Clean 1</text>
<rect x="104.7" y="376.8" width="3.2" height="4.4" fill="#50a8f8"/>
<text x="109.8" y="381.0" class="l" textLength="14.7" lengthAdjust="spacingAndGlyphs">SCADE</text>
<rect x="129.2" y="376.8" width="3.2" height="4.4" fill="#f5661f"/>
<text x="134.2" y="381.0" class="l" textLength="8.8" lengthAdjust="spacingAndGlyphs">SCA</text>
<rect x="147.4" y="376.8" width="3.2" height="4.4" fill="#96a1a3"/>
<text x="152.2" y="381.0" class="l" textLength="8.5" lengthAdjust="spacingAndGlyphs">SSO</text>
<rect x="165.0" y="376.8" width="3.2" height="4.4" fill="#f9b912"/>
<text x="170.4" y="381.0" class="l" textLength="7.9" lengthAdjust="spacingAndGlyphs">ABC</text>
</g>
<g class="panelD">
<path d="M285.1,205.4V391.6M565.2,205.4V391.6" fill="none" stroke="#eaefef" stroke-width="1"/>
<path d="M285.1,205.4H565.2M285.1,391.6H565.2" fill="none" stroke="#dbe2e2" stroke-width="1"/>
<polyline points="312.1,222.1 316.9,217.2 551.9,217.2" fill="none" stroke="#d4dddd" stroke-width="0.9"/>
<line x1="312.1" y1="222.1" x2="316.9" y2="217.2" stroke="#c9d3d3" stroke-width="0.8"/>
<text x="307.1" y="224.9" text-anchor="end" class="y" textLength="13.2" lengthAdjust="spacingAndGlyphs">0.014</text>
<polyline points="312.1,240.5 316.9,235.6 551.9,235.6" fill="none" stroke="#d4dddd" stroke-width="0.9"/>
<line x1="312.1" y1="240.5" x2="316.9" y2="235.6" stroke="#c9d3d3" stroke-width="0.8"/>
<text x="307.1" y="243.2" text-anchor="end" class="y" textLength="13.2" lengthAdjust="spacingAndGlyphs">0.012</text>
<polyline points="312.1,258.9 316.9,253.9 551.9,253.9" fill="none" stroke="#d4dddd" stroke-width="0.9"/>
<line x1="312.1" y1="258.9" x2="316.9" y2="253.9" stroke="#c9d3d3" stroke-width="0.8"/>
<text x="307.1" y="261.4" text-anchor="end" class="y" textLength="10.3" lengthAdjust="spacingAndGlyphs">0.01</text>
<polyline points="312.1,277.3 316.9,272.3 551.9,272.3" fill="none" stroke="#d4dddd" stroke-width="0.9"/>
<line x1="312.1" y1="277.3" x2="316.9" y2="272.3" stroke="#c9d3d3" stroke-width="0.8"/>
<text x="307.1" y="279.7" text-anchor="end" class="y" textLength="13.2" lengthAdjust="spacingAndGlyphs">0.008</text>
<polyline points="312.1,295.7 316.9,290.6 551.9,290.6" fill="none" stroke="#d4dddd" stroke-width="0.9"/>
<line x1="312.1" y1="295.7" x2="316.9" y2="290.6" stroke="#c9d3d3" stroke-width="0.8"/>
<text x="307.1" y="298.0" text-anchor="end" class="y" textLength="13.2" lengthAdjust="spacingAndGlyphs">0.006</text>
<polyline points="312.1,314.1 316.9,309.0 551.9,309.0" fill="none" stroke="#d4dddd" stroke-width="0.9"/>
<line x1="312.1" y1="314.1" x2="316.9" y2="309.0" stroke="#c9d3d3" stroke-width="0.8"/>
<text x="307.1" y="316.2" text-anchor="end" class="y" textLength="13.2" lengthAdjust="spacingAndGlyphs">0.004</text>
<polyline points="312.1,332.4 316.9,327.4 551.9,327.4" fill="none" stroke="#d4dddd" stroke-width="0.9"/>
<line x1="312.1" y1="332.4" x2="316.9" y2="327.4" stroke="#c9d3d3" stroke-width="0.8"/>
<text x="307.1" y="334.5" text-anchor="end" class="y" textLength="13.2" lengthAdjust="spacingAndGlyphs">0.002</text>
<polyline points="312.1,350.8 316.9,345.7 551.9,345.7" fill="none" stroke="#d4dddd" stroke-width="0.9"/>
<line x1="312.1" y1="350.8" x2="316.9" y2="345.7" stroke="#c9d3d3" stroke-width="0.8"/>
<text x="307.1" y="352.8" text-anchor="end" class="y" textLength="2.6" lengthAdjust="spacingAndGlyphs">0</text>
<polygon points="323.50,325.91 325.50,324.21 325.50,347.20 323.50,348.90" fill="url(#s0)"/>
<polygon points="318.10,326.21 323.50,326.21 325.50,324.21 320.10,324.21" fill="#3d8fe6"/>
<rect x="318.10" y="325.91" width="5.45" height="22.99" fill="url(#g0)"/>
<polygon points="328.90,293.73 330.90,292.03 330.90,347.20 328.90,348.90" fill="url(#s1)"/>
<polygon points="323.50,294.03 328.90,294.03 330.90,292.03 325.50,292.03" fill="#e0571a"/>
<rect x="323.50" y="293.73" width="5.45" height="55.17" fill="url(#g1)"/>
<polygon points="334.30,289.13 336.30,287.43 336.30,347.20 334.30,348.90" fill="url(#s2)"/>
<polygon points="328.90,289.43 334.30,289.43 336.30,287.43 330.90,287.43" fill="#6e7d88"/>
<rect x="328.90" y="289.13" width="5.45" height="59.77" fill="url(#g2)"/>
<polygon points="339.70,297.41 341.70,295.71 341.70,347.20 339.70,348.90" fill="url(#s3)"/>
<polygon points="334.30,297.71 339.70,297.71 341.70,295.71 336.30,295.71" fill="#dba30c"/>
<rect x="334.30" y="297.41" width="5.45" height="51.49" fill="url(#g3)"/>
<text x="327.7" y="361.8" text-anchor="middle" class="t" textLength="14.8" lengthAdjust="spacingAndGlyphs">Breast</text>
<polygon points="352.77,317.64 354.77,315.94 354.77,347.20 352.77,348.90" fill="url(#s0)"/>
<polygon points="347.37,317.94 352.77,317.94 354.77,315.94 349.37,315.94" fill="#3d8fe6"/>
<rect x="347.37" y="317.64" width="5.45" height="31.26" fill="url(#g0)"/>
<polygon points="358.17,291.89 360.17,290.19 360.17,347.20 358.17,348.90" fill="url(#s1)"/>
<polygon points="352.77,292.19 358.17,292.19 360.17,290.19 354.77,290.19" fill="#e0571a"/>
<rect x="352.77" y="291.89" width="5.45" height="57.01" fill="url(#g1)"/>
<polygon points="363.57,271.66 365.57,269.96 365.57,347.20 363.57,348.90" fill="url(#s2)"/>
<polygon points="358.17,271.96 363.57,271.96 365.57,269.96 360.17,269.96" fill="#6e7d88"/>
<rect x="358.17" y="271.66" width="5.45" height="77.24" fill="url(#g2)"/>
<polygon points="368.97,314.88 370.97,313.18 370.97,347.20 368.97,348.90" fill="url(#s3)"/>
<polygon points="363.57,315.18 368.97,315.18 370.97,313.18 365.57,313.18" fill="#dba30c"/>
<rect x="363.57" y="314.88" width="5.45" height="34.02" fill="url(#g3)"/>
<text x="357.0" y="361.8" text-anchor="middle" class="t" textLength="12.2" lengthAdjust="spacingAndGlyphs">Spect</text>
<polygon points="382.04,346.14 384.04,344.44 384.04,347.20 382.04,348.90" fill="url(#s0)"/>
<polygon points="376.64,346.44 382.04,346.44 384.04,344.44 378.64,344.44" fill="#3d8fe6"/>
<rect x="376.64" y="346.14" width="5.45" height="2.76" fill="url(#g0)"/>
<polygon points="387.44,320.40 389.44,318.70 389.44,347.20 387.44,348.90" fill="url(#s1)"/>
<polygon points="382.04,320.70 387.44,320.70 389.44,318.70 384.04,318.70" fill="#e0571a"/>
<rect x="382.04" y="320.40" width="5.45" height="28.50" fill="url(#g1)"/>
<polygon points="392.84,305.68 394.84,303.98 394.84,347.20 392.84,348.90" fill="url(#s2)"/>
<polygon points="387.44,305.98 392.84,305.98 394.84,303.98 389.44,303.98" fill="#6e7d88"/>
<rect x="387.44" y="305.68" width="5.45" height="43.22" fill="url(#g2)"/>
<polygon points="398.24,347.06 400.24,345.36 400.24,347.20 398.24,348.90" fill="url(#s3)"/>
<polygon points="392.84,347.36 398.24,347.36 400.24,345.36 394.84,345.36" fill="#dba30c"/>
<rect x="392.84" y="347.06" width="5.45" height="1.84" fill="url(#g3)"/>
<text x="386.2" y="361.8" text-anchor="middle" class="t" textLength="26.2" lengthAdjust="spacingAndGlyphs">Ionosphere</text>
<polygon points="411.31,339.70 413.31,338.00 413.31,347.20 411.31,348.90" fill="url(#s0)"/>
<polygon points="405.91,340.00 411.31,340.00 413.31,338.00 407.91,338.00" fill="#3d8fe6"/>
<rect x="405.91" y="339.70" width="5.45" height="9.19" fill="url(#g0)"/>
<polygon points="416.71,302.01 418.71,300.31 418.71,347.20 416.71,348.90" fill="url(#s1)"/>
<polygon points="411.31,302.31 416.71,302.31 418.71,300.31 413.31,300.31" fill="#e0571a"/>
<rect x="411.31" y="302.01" width="5.45" height="46.89" fill="url(#g1)"/>
<polygon points="422.11,302.01 424.11,300.31 424.11,347.20 422.11,348.90" fill="url(#s2)"/>
<polygon points="416.71,302.31 422.11,302.31 424.11,300.31 418.71,300.31" fill="#6e7d88"/>
<rect x="416.71" y="302.01" width="5.45" height="46.89" fill="url(#g2)"/>
<polygon points="427.51,344.30 429.51,342.60 429.51,347.20 427.51,348.90" fill="url(#s3)"/>
<polygon points="422.11,344.60 427.51,344.60 429.51,342.60 424.11,342.60" fill="#dba30c"/>
<rect x="422.11" y="344.30" width="5.45" height="4.60" fill="url(#g3)"/>
<text x="415.5" y="361.8" text-anchor="middle" class="t" textLength="12.0" lengthAdjust="spacingAndGlyphs">Wine</text>
<polygon points="440.58,327.75 442.58,326.05 442.58,347.20 440.58,348.90" fill="url(#s0)"/>
<polygon points="435.18,328.05 440.58,328.05 442.58,326.05 437.18,326.05" fill="#3d8fe6"/>
<rect x="435.18" y="327.75" width="5.45" height="21.15" fill="url(#g0)"/>
<polygon points="445.98,326.83 447.98,325.13 447.98,347.20 445.98,348.90" fill="url(#s1)"/>
<polygon points="440.58,327.13 445.98,327.13 447.98,325.13 442.58,325.13" fill="#e0571a"/>
<rect x="440.58" y="326.83" width="5.45" height="22.07" fill="url(#g1)"/>
<polygon points="451.38,329.59 453.38,327.89 453.38,347.20 451.38,348.90" fill="url(#s2)"/>
<polygon points="445.98,329.89 451.38,329.89 453.38,327.89 447.98,327.89" fill="#6e7d88"/>
<rect x="445.98" y="329.59" width="5.45" height="19.31" fill="url(#g2)"/>
<polygon points="456.78,323.15 458.78,321.45 458.78,347.20 456.78,348.90" fill="url(#s3)"/>
<polygon points="451.38,323.45 456.78,323.45 458.78,321.45 453.38,321.45" fill="#dba30c"/>
<rect x="451.38" y="323.15" width="5.45" height="25.75" fill="url(#g3)"/>
<text x="444.8" y="361.8" text-anchor="middle" class="t" textLength="21.7" lengthAdjust="spacingAndGlyphs">Congress</text>
<polygon points="469.85,329.59 471.85,327.89 471.85,347.20 469.85,348.90" fill="url(#s0)"/>
<polygon points="464.45,329.89 469.85,329.89 471.85,327.89 466.45,327.89" fill="#3d8fe6"/>
<rect x="464.45" y="329.59" width="5.45" height="19.31" fill="url(#g0)"/>
<polygon points="475.25,338.79 477.25,337.09 477.25,347.20 475.25,348.90" fill="url(#s1)"/>
<polygon points="469.85,339.09 475.25,339.09 477.25,337.09 471.85,337.09" fill="#e0571a"/>
<rect x="469.85" y="338.79" width="5.45" height="10.11" fill="url(#g1)"/>
<polygon points="480.65,253.92 482.65,252.22 482.65,347.20 480.65,348.90" fill="url(#s2)"/>
<polygon points="475.25,254.22 480.65,254.22 482.65,252.22 477.25,252.22" fill="#6e7d88"/>
<rect x="475.25" y="253.92" width="5.45" height="94.98" fill="url(#g2)"/>
<polygon points="486.05,222.19 488.05,220.49 488.05,347.20 486.05,348.90" fill="url(#s3)"/>
<polygon points="480.65,222.49 486.05,222.49 488.05,220.49 482.65,220.49" fill="#dba30c"/>
<rect x="480.65" y="222.19" width="5.45" height="126.71" fill="url(#g3)"/>
<text x="474.0" y="361.8" text-anchor="middle" class="t" textLength="15.6" lengthAdjust="spacingAndGlyphs">Sensor</text>
<polygon points="499.12,327.75 501.12,326.05 501.12,347.20 499.12,348.90" fill="url(#s0)"/>
<polygon points="493.72,328.05 499.12,328.05 501.12,326.05 495.72,326.05" fill="#3d8fe6"/>
<rect x="493.72" y="327.75" width="5.45" height="21.15" fill="url(#g0)"/>
<polygon points="504.52,314.88 506.52,313.18 506.52,347.20 504.52,348.90" fill="url(#s1)"/>
<polygon points="499.12,315.18 504.52,315.18 506.52,313.18 501.12,313.18" fill="#e0571a"/>
<rect x="499.12" y="314.88" width="5.45" height="34.02" fill="url(#g1)"/>
<polygon points="509.92,327.75 511.92,326.05 511.92,347.20 509.92,348.90" fill="url(#s2)"/>
<polygon points="504.52,328.05 509.92,328.05 511.92,326.05 506.52,326.05" fill="#6e7d88"/>
<rect x="504.52" y="327.75" width="5.45" height="21.15" fill="url(#g2)"/>
<polygon points="515.32,315.80 517.32,314.10 517.32,347.20 515.32,348.90" fill="url(#s3)"/>
<polygon points="509.92,316.10 515.32,316.10 517.32,314.10 511.92,314.10" fill="#dba30c"/>
<rect x="509.92" y="315.80" width="5.45" height="33.10" fill="url(#g3)"/>
<text x="503.3" y="361.8" text-anchor="middle" class="t" textLength="16.8" lengthAdjust="spacingAndGlyphs">Clean 2</text>
<polygon points="528.39,316.72 530.39,315.02 530.39,347.20 528.39,348.90" fill="url(#s0)"/>
<polygon points="522.99,317.02 528.39,317.02 530.39,315.02 524.99,315.02" fill="#3d8fe6"/>
<rect x="522.99" y="316.72" width="5.45" height="32.18" fill="url(#g0)"/>
<polygon points="533.79,308.44 535.79,306.74 535.79,347.20 533.79,348.90" fill="url(#s1)"/>
<polygon points="528.39,308.74 533.79,308.74 535.79,306.74 530.39,306.74" fill="#e0571a"/>
<rect x="528.39" y="308.44" width="5.45" height="40.46" fill="url(#g1)"/>
<polygon points="539.19,330.51 541.19,328.81 541.19,347.20 539.19,348.90" fill="url(#s2)"/>
<polygon points="533.79,330.81 539.19,330.81 541.19,328.81 535.79,328.81" fill="#6e7d88"/>
<rect x="533.79" y="330.51" width="5.45" height="18.39" fill="url(#g2)"/>
<polygon points="544.59,348.62 546.59,346.92 546.59,347.20 544.59,348.90" fill="url(#s3)"/>
<polygon points="539.19,348.92 544.59,348.92 546.59,346.92 541.19,346.92" fill="#dba30c"/>
<rect x="539.19" y="348.62" width="5.45" height="0.28" fill="url(#g3)"/>
<text x="532.6" y="361.8" text-anchor="middle" class="t" textLength="16.8" lengthAdjust="spacingAndGlyphs">Clean 1</text>
<rect x="388.8" y="377.1" width="3.2" height="4.4" fill="#50a8f8"/>
<text x="394.1" y="381.3" class="l" textLength="14.2" lengthAdjust="spacingAndGlyphs">SCADE</text>
<rect x="413.0" y="377.1" width="3.2" height="4.4" fill="#f5661f"/>
<text x="418.3" y="381.3" class="l" textLength="8.5" lengthAdjust="spacingAndGlyphs">SCA</text>
<rect x="431.2" y="377.1" width="3.2" height="4.4" fill="#96a1a3"/>
<text x="436.2" y="381.3" class="l" textLength="8.8" lengthAdjust="spacingAndGlyphs">SSO</text>
<rect x="449.4" y="377.1" width="3.2" height="4.4" fill="#f9b912"/>
<text x="454.2" y="381.3" class="l" textLength="8.5" lengthAdjust="spacingAndGlyphs">ABC</text>
</g>
<text x="110.8" y="200.1" class="c" textLength="11.8" lengthAdjust="spacingAndGlyphs">(A)</text>
<text x="126.1" y="201.1" class="c" textLength="22" lengthAdjust="spacingAndGlyphs">Mean</text>
<text x="408" y="199.5" class="c" textLength="11.8" lengthAdjust="spacingAndGlyphs">(B)</text>
<text x="114" y="403.5" class="c" textLength="38.6" lengthAdjust="spacingAndGlyphs">(C) Worst</text>
<text x="406.6" y="404.9" class="c" textLength="12.8" lengthAdjust="spacingAndGlyphs">(D)</text>
<text x="423" y="403.1" class="c" textLength="12.7" lengthAdjust="spacingAndGlyphs">Std</text>
<text x="426.3" y="249.2" class="c" style="font-size:11.5px" textLength="16.6" lengthAdjust="spacingAndGlyphs">Best</text>
</g>
</svg>
</body></html>
